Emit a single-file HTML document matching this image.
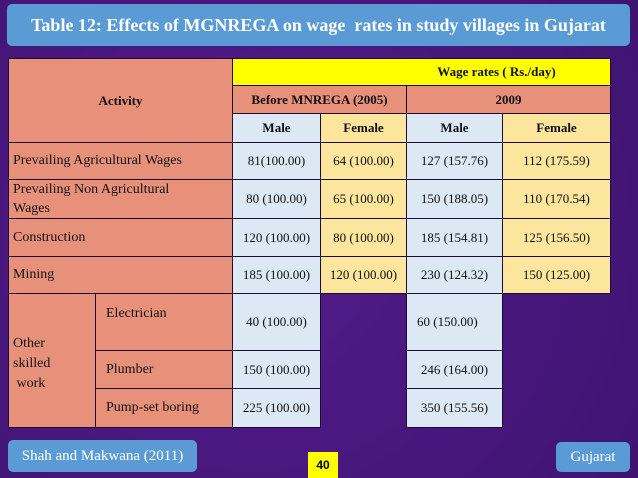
<!DOCTYPE html>
<html><head><meta charset="utf-8"><style>
body{margin:0;width:638px;height:478px;overflow:hidden;background:#4a1880;position:relative;font-family:"Liberation Serif",serif}
.bg{position:absolute;inset:0;background:radial-gradient(circle at 40% 50%,#521c8a 0,#48177d 60%,#3e1470 100%)}
.c{position:absolute;box-sizing:border-box;border:1px solid #1e0a30;display:flex;align-items:center;justify-content:center;font-size:13px;color:#111}
.s{background:#e8917a}.b{background:#dce8f4}.y{background:#fce59c}.Y{background:#ffff00}
.l{justify-content:flex-start;padding-left:4px;font-size:14px}
.h{font-weight:bold;font-size:13px}
.box{position:absolute;background:#5b9bd5;border-radius:5px;color:#fff;display:flex;align-items:center;justify-content:center}
</style></head><body>
<div class="bg"></div>
<div class="box" style="left:7px;top:4px;width:623px;height:42px;font-weight:bold;font-size:18px">Table 12: Effects of MGNREGA on wage&nbsp; rates in study villages in Gujarat</div>
<div>
<div class="c s h" style="left:8px;top:58px;width:225px;height:85px">Activity</div>
<div class="c Y h" style="left:232px;top:58px;width:379px;height:28px;padding-left:150px">Wage rates ( Rs./day)</div>
<div class="c s h" style="left:232px;top:85px;width:175px;height:29px">Before MNREGA (2005)</div>
<div class="c s h" style="left:406px;top:85px;width:205px;height:29px">2009</div>
<div class="c b h" style="left:232px;top:113px;width:89px;height:30px">Male</div>
<div class="c y h" style="left:320px;top:113px;width:87px;height:30px">Female</div>
<div class="c b h" style="left:406px;top:113px;width:97px;height:30px">Male</div>
<div class="c y h" style="left:502px;top:113px;width:109px;height:30px">Female</div>

<div class="c s l" style="left:8px;top:142px;width:225px;height:38px">Prevailing Agricultural Wages</div>
<div class="c b" style="left:232px;top:142px;width:89px;height:38px">81(100.00)</div>
<div class="c y" style="left:320px;top:142px;width:87px;height:38px">64 (100.00)</div>
<div class="c b" style="left:406px;top:142px;width:97px;height:38px">127 (157.76)</div>
<div class="c y" style="left:502px;top:142px;width:109px;height:38px">112 (175.59)</div>

<div class="c s l" style="left:8px;top:179px;width:225px;height:40px;line-height:19px">Prevailing Non Agricultural<br>Wages</div>
<div class="c b" style="left:232px;top:179px;width:89px;height:40px">80 (100.00)</div>
<div class="c y" style="left:320px;top:179px;width:87px;height:40px">65 (100.00)</div>
<div class="c b" style="left:406px;top:179px;width:97px;height:40px">150 (188.05)</div>
<div class="c y" style="left:502px;top:179px;width:109px;height:40px">110 (170.54)</div>

<div class="c s l" style="left:8px;top:218px;width:225px;height:39px">Construction</div>
<div class="c b" style="left:232px;top:218px;width:89px;height:39px">120 (100.00)</div>
<div class="c y" style="left:320px;top:218px;width:87px;height:39px">80 (100.00)</div>
<div class="c b" style="left:406px;top:218px;width:97px;height:39px">185 (154.81)</div>
<div class="c y" style="left:502px;top:218px;width:109px;height:39px">125 (156.50)</div>

<div class="c s l" style="left:8px;top:256px;width:225px;height:38px">Mining</div>
<div class="c b" style="left:232px;top:256px;width:89px;height:38px">185 (100.00)</div>
<div class="c y" style="left:320px;top:256px;width:87px;height:38px">120 (100.00)</div>
<div class="c b" style="left:406px;top:256px;width:97px;height:38px">230 (124.32)</div>
<div class="c y" style="left:502px;top:256px;width:109px;height:38px">150 (125.00)</div>

<div class="c s l" style="left:8px;top:293px;width:88px;height:135px;line-height:20px;padding-top:6px">Other<br>skilled<br>&nbsp;work</div>
<div class="c s l" style="left:95px;top:293px;width:138px;height:58px;align-items:flex-start;padding-top:12px;padding-left:10px">Electrician</div>
<div class="c b" style="left:232px;top:293px;width:89px;height:58px">40 (100.00)</div>
<div class="c b l" style="left:406px;top:293px;width:97px;height:58px;font-size:13px;padding-left:10px">60 (150.00)</div>

<div class="c s l" style="left:95px;top:350px;width:138px;height:39px;padding-left:10px">Plumber</div>
<div class="c b" style="left:232px;top:350px;width:89px;height:39px">150 (100.00)</div>
<div class="c b" style="left:406px;top:350px;width:97px;height:39px">246 (164.00)</div>

<div class="c s l" style="left:95px;top:388px;width:138px;height:40px;padding-left:10px">Pump-set boring</div>
<div class="c b" style="left:232px;top:388px;width:89px;height:40px">225 (100.00)</div>
<div class="c b" style="left:406px;top:388px;width:97px;height:40px">350 (155.56)</div>
</div>
<div class="box" style="left:8px;top:440px;width:189px;height:32px;font-size:15px">Shah and Makwana (2011)</div>
<div style="position:absolute;left:308px;top:452px;width:30px;height:26px;background:#ffff00;font-family:'Liberation Sans',sans-serif;font-weight:bold;font-size:12px;display:flex;align-items:center;justify-content:center">40</div>
<div class="box" style="left:556px;top:442px;width:74px;height:30px;font-size:15px">Gujarat</div>
</body></html>
